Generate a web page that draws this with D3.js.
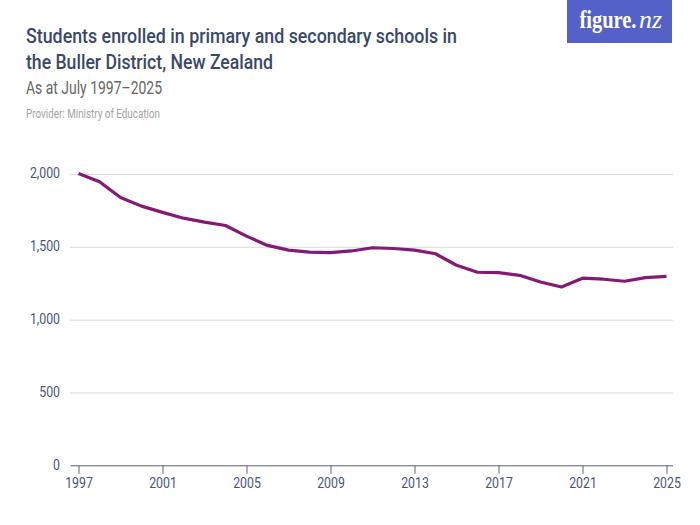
<!DOCTYPE html>
<html><head><meta charset="utf-8">
<script src="https://cdn.jsdelivr.net/npm/d3@7"></script>
<style>html,body{margin:0;padding:0;background:#fff}svg{display:block}</style>
</head><body><div id="chart"></div>
<script>
const years = d3.range(1997, 2026);
const students = [2007,1950,1842,1783,1740,1700,1673,1650,1577,1513,1481,1467,1463,1475,1497,1492,1481,1456,1377,1329,1326,1308,1262,1228,1288,1281,1267,1292,1301];
const yTicks = [0,500,1000,1500,2000];
const xTicks = [1997,2001,2005,2009,2013,2017,2021,2025];
const titleLines = ["Students enrolled in primary and secondary schools in","the Buller District, New Zealand"];
const subtitle = "As at July 1997–2025";
const provider = "Provider: Ministry of Education";

const W=700,H=525;
const svg=d3.select("#chart").append("svg").attr("width",W).attr("height",H);
const font="'Roboto',sans-serif";
const x=d3.scaleLinear().domain([1997,2025]).range([78.5,666.5]);
const y=d3.scaleLinear().domain([0,2000]).range([465.8,174.5]);
const ink="#47557a";

svg.selectAll(".title").data(titleLines).join("text").attr("class","title")
  .attr("x",26).attr("y",(d,i)=>42.5+i*26).attr("fill","#3a4868").attr("font-family",font)
  .attr("font-size",20).attr("font-weight",500)
  .attr("textLength",(d,i)=>i?247:431).attr("lengthAdjust","spacingAndGlyphs").text(d=>d);
svg.append("text").attr("x",26).attr("y",94).attr("fill","#666").attr("font-family",font)
  .attr("font-size",18).attr("font-weight",400).attr("textLength",136).attr("lengthAdjust","spacingAndGlyphs").text(subtitle);
svg.append("text").attr("x",26).attr("y",118).attr("fill","#a3a3a3").attr("font-family",font)
  .attr("font-size",12.5).attr("textLength",134).attr("lengthAdjust","spacingAndGlyphs").text(provider);

svg.append("rect").attr("x",567).attr("y",0).attr("width",105).attr("height",43).attr("fill","#5461c8");
const logoFont="'Liberation Serif',serif";
function fitLogo(sel,left,target){
  const w=sel.node().getComputedTextLength();
  sel.attr("transform",`translate(${left},28) scale(${target/w},1)`);
}
svg.append("text").attr("fill","#fff").attr("font-family",logoFont)
  .attr("font-size",25).attr("font-weight",700).text("figure.").call(fitLogo,579.5,57);
svg.append("text").attr("fill","#fff").attr("font-family",logoFont)
  .attr("font-size",25).attr("font-style","italic").text("nz").call(fitLogo,639,23);

const grid=svg.append("g");
grid.selectAll("line").data(yTicks.filter(d=>d>0)).join("line")
  .attr("x1",70).attr("x2",673).attr("y1",d=>y(d)).attr("y2",d=>y(d))
  .attr("stroke","#dcdcdc").attr("stroke-width",1);

function condense(sel){
  sel.attr("font-family",font).attr("font-size",15).attr("font-weight",400).attr("fill",ink)
    .attr("lengthAdjust","spacingAndGlyphs")
    .attr("textLength",function(){return this.getComputedTextLength()*0.82;});
}
const yAxis=d3.axisLeft(y).tickValues(yTicks).tickSize(0).tickPadding(0).tickFormat(d3.format(","));
const gy=svg.append("g").attr("transform","translate(60,0)").call(yAxis);
gy.select(".domain").remove();
gy.selectAll("text").attr("dy","0.22em").call(condense);

const xAxis=d3.axisBottom(x).tickValues(xTicks).tickSize(8).tickPadding(4).tickFormat(d3.format("d"));
const gx=svg.append("g").attr("transform",`translate(0,${y(0)})`).call(xAxis);
gx.select(".domain").attr("d","M70.5,0H673").attr("stroke","#5f6368").attr("stroke-width",1);
gx.selectAll("line").attr("stroke","#5f6368");
gx.selectAll("text").call(condense);

const line=d3.line().x((d,i)=>x(years[i])).y(d=>y(d));
svg.append("path").datum(students).attr("d",line).attr("fill","none")
  .attr("stroke","#841a76").attr("stroke-width",3.2).attr("stroke-linejoin","round");
</script></body></html>
